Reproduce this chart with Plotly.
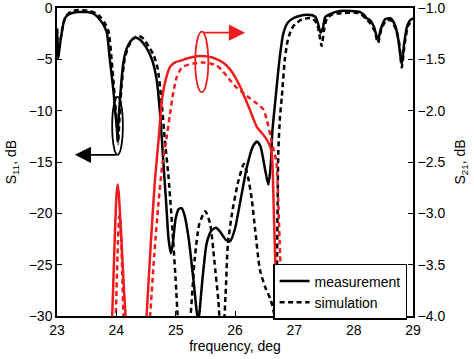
import plotly.graph_objects as go

# S11 measurement (freq, dB)
f_s11_meas = [23.00, 23.02, 23.04, 23.08, 23.12, 23.16, 23.25, 23.35, 23.50, 23.60, 23.67, 23.73, 23.78, 23.84,
              23.89, 23.95, 23.98, 24.01, 24.02, 24.03, 24.06, 24.11, 24.15, 24.20, 24.26, 24.32, 24.38, 24.45,
              24.52, 24.60, 24.68, 24.74, 24.79, 24.84, 24.88, 24.92, 24.95, 25.00, 25.05, 25.10, 25.15, 25.22,
              25.30, 25.38, 25.45, 25.52, 25.60, 25.68, 25.75, 25.85, 25.92, 26.00, 26.10, 26.20, 26.30, 26.37,
              26.43, 26.50, 26.56, 26.60, 26.63, 26.68, 26.75, 26.81, 26.88, 26.98, 27.10, 27.21, 27.30, 27.36,
              27.40, 27.44, 27.48, 27.52, 27.60, 27.77, 27.95, 28.11, 28.18, 28.22, 28.28, 28.34, 28.41, 28.46,
              28.53, 28.62, 28.70, 28.75, 28.81, 28.85, 28.90, 28.95, 29.00]
s11_meas = [-2.0, -4.9, -4.0, -2.4, -1.2, -0.8, -0.5, -0.4, -0.4, -0.5, -0.8, -1.2, -1.6, -2.4,
            -5.0, -8.0, -10.0, -11.8, -12.9, -11.5, -9.0, -5.7, -4.4, -3.6, -3.1, -2.9, -3.0, -3.4,
            -4.0, -5.0, -7.0, -10.5, -14.8, -19.0, -22.5, -23.9, -23.0, -20.5, -19.6, -19.5, -20.2, -22.5,
            -26.5, -30.5, -26.5, -23.0, -21.7, -21.4, -21.8, -22.6, -22.7, -21.5, -18.5, -15.5, -13.5, -13.0,
            -13.5, -15.5, -17.2, -15.5, -12.0, -9.0, -5.0, -2.6, -1.5, -1.0, -0.75, -0.65, -0.7, -0.9,
            -1.5, -2.4, -2.0, -0.9, -0.6, -0.3, -0.3, -0.4, -0.7, -1.0, -1.2, -1.8, -3.1, -2.0,
            -1.1, -1.0, -1.7, -3.0, -5.5, -3.5, -1.8, -1.2, -1.0]

# S11 simulation (freq, dB)
f_s11_sim = [23.00, 23.02, 23.05, 23.09, 23.15, 23.25, 23.40, 23.55, 23.65, 23.72, 23.80, 23.87, 23.92, 23.97,
             24.01, 24.03, 24.05, 24.09, 24.14, 24.20, 24.28, 24.38, 24.46, 24.55, 24.63, 24.70, 24.76, 24.82,
             24.88, 24.95, 25.00, 25.04, 25.10, 25.18, 25.25, 25.32, 25.40, 25.50, 25.58, 25.65, 25.72, 25.76,
             25.80, 25.84, 25.88, 25.95, 26.05, 26.15, 26.22, 26.28, 26.34, 26.42, 26.51, 26.60, 26.65, 26.69,
             26.71, 26.73, 26.76, 26.79, 26.84, 26.89, 26.95, 27.01, 27.13, 27.30, 27.38, 27.42, 27.46, 27.50,
             27.55, 27.65, 27.80, 28.10, 28.20, 28.28, 28.35, 28.41, 28.47, 28.55, 28.63, 28.72, 28.77, 28.81,
             28.86, 28.92, 29.00]
s11_sim = [-2.0, -4.6, -3.5, -2.0, -0.8, -0.3, -0.2, -0.3, -0.5, -0.8, -1.4, -2.3, -5.0, -8.5,
           -11.5, -13.2, -11.0, -7.5, -5.0, -3.8, -3.0, -2.7, -3.0, -3.8, -4.6, -6.0, -9.0, -13.0,
           -16.5, -22.0, -26.5, -30.5, -33.0, -33.0, -30.0, -24.5, -21.0, -19.8, -21.0, -24.5, -28.5, -31.0,
           -31.0, -28.0, -23.0, -20.0, -17.0, -15.2, -16.5, -18.5, -21.6, -25.5, -27.2, -28.4, -29.5, -30.5,
           -24.0, -14.0, -10.5, -8.6, -5.0, -3.1, -2.1, -1.6, -1.1, -1.0, -1.5, -2.5, -3.7, -2.2,
           -1.0, -0.6, -0.5, -0.5, -1.0, -1.5, -2.2, -3.4, -2.0, -1.2, -1.2, -2.2, -3.5, -5.8,
           -3.5, -1.7, -1.2]

# S21 measurement (freq, dB)
f_s21_meas = [23.90, 23.93, 23.97, 24.00, 24.02, 24.04, 24.08, 24.13, 24.16, 24.20, 24.35, 24.45, 24.51,
              24.58, 24.65, 24.71, 24.77, 24.84, 24.91, 24.99, 25.10, 25.20, 25.36, 25.50, 25.60, 25.70,
              25.82, 25.92, 26.00, 26.09, 26.17, 26.25, 26.31, 26.37, 26.44, 26.51, 26.57, 26.61, 26.63,
              26.655, 26.68, 26.70, 26.73]
s21_meas = [-4.3, -4.0, -3.3, -2.85, -2.72, -2.8, -3.2, -3.75, -4.05, -4.4, -4.8, -4.6, -4.0,
            -3.3, -2.68, -2.30, -1.89, -1.68, -1.57, -1.53, -1.51, -1.49, -1.47, -1.47, -1.48, -1.50,
            -1.54, -1.60, -1.67, -1.77, -1.88, -1.99, -2.08, -2.16, -2.21, -2.26, -2.32, -2.38, -2.5,
            -3.0, -3.5, -4.0, -4.6]

# S21 simulation (freq, dB)
f_s21_sim = [23.96, 23.99, 24.02, 24.05, 24.06, 24.08, 24.10, 24.12, 24.15, 24.40, 24.52, 24.57, 24.64,
             24.71, 24.78, 24.85, 24.90, 24.96, 25.02, 25.08, 25.13, 25.30, 25.46, 25.58, 25.69, 25.80,
             25.90, 26.00, 26.12, 26.25, 26.37, 26.48, 26.54, 26.60, 26.65, 26.70, 26.73, 26.76, 26.79,
             26.81, 26.84]
s21_sim = [-4.3, -4.0, -3.4, -3.03, -3.02, -3.2, -3.6, -4.0, -4.4, -4.8, -4.4, -4.0, -3.4,
           -2.9, -2.5, -2.25, -2.05, -1.82, -1.67, -1.6, -1.57, -1.54, -1.53, -1.54, -1.56, -1.62,
           -1.69, -1.76, -1.82, -1.88, -1.93, -1.99, -2.10, -2.25, -2.38, -2.51, -2.9, -3.4, -3.8,
           -4.0, -4.4]

x_ticks = [23, 24, 25, 26, 27, 28, 29]
y1_ticks = [0, -5, -10, -15, -20, -25, -30]
y2_ticks = [-1.0, -1.5, -2.0, -2.5, -3.0, -3.5, -4.0]

FONT = "Liberation Sans, Arial, Helvetica, sans-serif"
RED = "#ee1c1c"
LW = 2.5
DASH = "5px,3.5px"

fig = go.Figure()
fig.add_trace(go.Scatter(x=f_s11_meas, y=s11_meas, mode="lines", name="measurement",
                         line=dict(color="black", width=LW, shape="spline", smoothing=0.6)))
fig.add_trace(go.Scatter(x=f_s11_sim, y=s11_sim, mode="lines", name="simulation",
                         line=dict(color="black", width=LW, dash=DASH, shape="spline", smoothing=0.6)))
fig.add_trace(go.Scatter(x=f_s21_meas, y=s21_meas, mode="lines", yaxis="y2", showlegend=False,
                         line=dict(color=RED, width=LW, shape="spline", smoothing=0.6)))
fig.add_trace(go.Scatter(x=f_s21_sim, y=s21_sim, mode="lines", yaxis="y2", showlegend=False,
                         line=dict(color=RED, width=LW, dash=DASH, shape="spline", smoothing=0.6)))

# annotation ellipses
fig.add_shape(type="circle", xref="x", yref="y", x0=23.93, x1=24.11, y0=-8.65, y1=-14.3,
              line=dict(color="black", width=1.8))
fig.add_shape(type="circle", xref="x", yref="y2", x0=25.33, x1=25.55, y0=-1.23, y1=-1.82,
              line=dict(color=RED, width=1.8))
fig.add_annotation(x=23.30, y=-14.3, ax=24.02, ay=-14.3, xref="x", yref="y", axref="x", ayref="y",
                   text="", showarrow=True, arrowhead=2, arrowsize=1.8, arrowwidth=1.8, arrowcolor="black")
fig.add_annotation(x=26.17, y=-1.24, ax=25.44, ay=-1.24, xref="x", yref="y2", axref="x", ayref="y2",
                   text="", showarrow=True, arrowhead=2, arrowsize=1.8, arrowwidth=1.8, arrowcolor=RED)

axis_common = dict(showgrid=False, zeroline=False, showline=True, linecolor="black", linewidth=1.5,
                   ticks="inside", ticklen=5, tickwidth=1.3, tickcolor="black", automargin=False,
                   ticklabeloverflow="allow",
                   tickfont=dict(family=FONT, size=14, color="black"))

fig.update_layout(
    width=474, height=359,
    margin=dict(l=57, r=61, t=8, b=43),
    paper_bgcolor="white", plot_bgcolor="white",
    font=dict(family=FONT, size=14, color="black"),
    xaxis=dict(range=[23, 29], tickvals=x_ticks, ticktext=[str(t) for t in x_ticks], mirror=True,
               title=dict(text="frequency, deg", font=dict(family=FONT, size=14), standoff=5),
               **axis_common),
    yaxis=dict(range=[-30, 0], tickvals=y1_ticks,
               title=dict(text="S<sub>11</sub>, dB", font=dict(family=FONT, size=14), standoff=9),
               **axis_common),
    yaxis2=dict(range=[-4, -1], tickvals=y2_ticks, tickformat=".1f", overlaying="y", side="right",
                title=dict(text="S<sub>21</sub>, dB", font=dict(family=FONT, size=14), standoff=11),
                **axis_common),
    legend=dict(x=0.607, y=0.169, xanchor="left", yanchor="top", bgcolor="white",
                bordercolor="black", borderwidth=1.5, font=dict(family=FONT, size=14),
                tracegroupgap=0, itemwidth=30),
    showlegend=True,
)

fig.write_html("out.html", config={"displayModeBar": False},
               post_script="document.body.style.margin='0';document.body.style.overflow='hidden';")
